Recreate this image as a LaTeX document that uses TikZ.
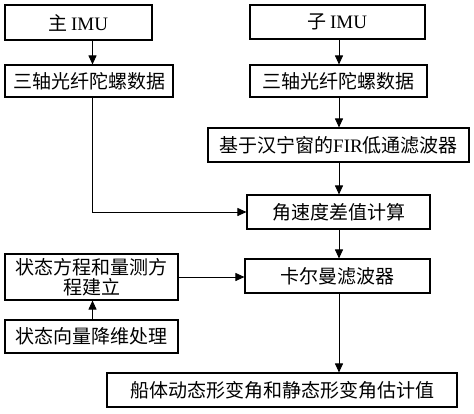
\documentclass[tikz,border=0pt]{standalone}
\usepackage{fontspec}
\setmainfont{Liberation Serif}
\newfontfamily\cjk{Noto Sans CJK SC}
\usetikzlibrary{arrows.meta,positioning}
\begin{document}
\begin{tikzpicture}[x=1pt,y=-1pt,
  box/.style={draw=black,line width=1.1pt,inner sep=1pt,align=center,
    font=\fontsize{19}{21}\selectfont\cjk},
  conn/.style={line width=0.9pt,-{Triangle[length=9pt,width=8pt]}}]
\useasboundingbox[fill=white] (0,0) rectangle (474,413);
\node[box,minimum width=147pt,minimum height=35pt] (A) at (78.5,22.5) {主\,{\rmfamily IMU}};
\node[box,minimum width=168pt,minimum height=32pt] (B) at (89,81) {三轴光纤陀螺数据};
\node[box,minimum width=175pt,minimum height=34pt] (C) at (337.5,22) {子\,{\rmfamily IMU}};
\node[box,minimum width=177pt,minimum height=32pt] (D) at (338.5,81) {三轴光纤陀螺数据};
\node[box,minimum width=261pt,minimum height=34pt] (E) at (338.5,145) {基于汉宁窗的{\rmfamily FIR}低通滤波器};
\node[box,minimum width=183pt,minimum height=34pt] (F) at (338.5,212) {角速度差值计算};
\node[box,minimum width=185pt,minimum height=34pt] (G) at (337.5,276) {卡尔曼滤波器};
\node[box,minimum width=173pt,minimum height=46pt,font=\fontsize{19}{20}\selectfont\cjk] (H) at (91.5,277) {状态方程和量测方\\程建立};
\node[box,minimum width=173pt,minimum height=33pt] (I) at (91.5,336.5) {状态向量降维处理};
\node[box,minimum width=350pt,minimum height=34pt] (J) at (282,390) {船体动态形变角和静态形变角估计值};
\coordinate (lx) at (92.5,0);
\coordinate (rx) at (339,0);
\draw[conn] (A.south -| lx) -- (B.north -| lx);
\draw[conn] (C.south -| rx) -- (D.north -| rx);
\draw[conn] (D.south -| rx) -- (E.north -| rx);
\draw[conn] (E.south -| rx) -- (F.north -| rx);
\draw[conn] (F.south -| rx) -- (G.north -| rx);
\draw[conn] (G.south -| rx) -- (J.north -| rx);
\draw[conn] (B.south -| lx) |- (F.west);
\draw[conn] (H.east) -- (H.east -| G.west);
\draw[conn] (I.north -| lx) -- (H.south -| lx);
\end{tikzpicture}
\end{document}
